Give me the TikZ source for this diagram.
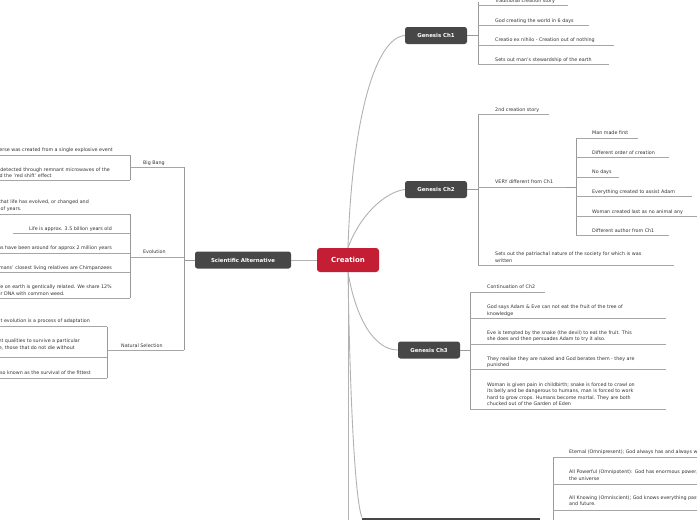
\documentclass[tikz,border=0pt]{standalone}
\usepackage{fontspec}
\setmainfont{DejaVu Sans}
\begin{document}
\begin{tikzpicture}[x=1pt,y=-1pt,
 tx/.style={font=\fontsize{4.8}{5.5}\selectfont,text=black!80,inner sep=0,anchor=base west},
 tr/.style={tx,anchor=base east},
 ul/.style={draw=black!35,line width=0.5pt},
 br/.style={draw=black!40,line width=0.6pt},
 mn/.style={draw=black!30,line width=0.9pt},
 topic/.style={fill=black!72,rounded corners=2.5pt,text=white,font=\bfseries\fontsize{5.4}{6}\selectfont,minimum height=17pt,inner sep=0}]
\useasboundingbox (0,0) rectangle (697,520);
\clip (0,0) rectangle (697,520);
\fill[white] (0,0) rectangle (697,520);
% central
\node[fill={rgb,255:red,196;green,30;blue,52},rounded corners=3pt,text=white,font=\bfseries\fontsize{7}{8}\selectfont,minimum width=62pt,minimum height=24pt,inner sep=0] (c) at (348,260) {Creation};
\node[topic,minimum width=62pt] (g1) at (436,35.5) {Genesis Ch1};
\node[topic,minimum width=62pt] (g2) at (436,189.5) {Genesis Ch2};
\node[topic,minimum width=62pt] (g3) at (429,350) {Genesis Ch3};
\node[topic,minimum width=96pt] (sa) at (243,260) {Scientific Alternative};
\node[fill=black!72,minimum width=178pt,minimum height=10pt,inner sep=0,anchor=north west] (g4) at (362,517.5) {};
% main connectors
\draw[mn] (c.north) .. controls (352,120) and (375,38) .. (g1.west);
\draw[mn] (c.north) .. controls (360,215) and (385,192) .. (g2.west);
\draw[mn] (c.south) .. controls (356,320) and (375,350) .. (g3.west);
\draw[mn] (c.south) -- (348,520);
\draw[mn] (c.south) .. controls (350,400) and (355,500) .. (g4.north west);
\draw[mn] (c.west) -- (sa.east);
% Genesis Ch1
\coordinate (b1) at (478,35.5);
\draw[br] (g1.east) -- (b1);
\draw[br] (478,2) -- (478,64.5);
\node[tx] (a1) at (495,2) {Traditional creation story};
\draw[ul] (478,5) -- (568,5);
\node[tx] (a2) at (495,22) {God creating the world in 6 days};
\draw[ul] (478,25) -- (589,25);
\node[tx] (a3) at (495,41.5) {Creatio ex nihilo - Creation out of nothing};
\draw[ul] (478,45) -- (614,45);
\node[tx] (a4) at (495,61.5) {Sets out man's stewardship of the earth};
\draw[ul] (478,64.5) -- (609,64.5);
% Genesis Ch2
\draw[br] (g2.east) -- (478,189.5);
\draw[br] (478,114.5) -- (478,265);
\node[tx] (b2a) at (495,111) {2nd creation story};
\draw[ul] (478,114.5) -- (549,114.5);
\node[tx] (b2b) at (495,183.5) {VERY different from Ch1};
\draw[ul] (478,187) -- (566,187);
\draw[br] (566,187) -- (576,187);
\draw[br] (576,138) -- (576,235.5);
\node[tx] (s1) at (592,134.5) {Man made first};
\draw[ul] (576,138) -- (638,138);
\node[tx] (s2) at (592,154.5) {Different order of creation};
\draw[ul] (576,157.5) -- (669,157.5);
\node[tx] (s3) at (592,173.5) {No days};
\draw[ul] (576,177) -- (619,177);
\node[tx] (s4) at (592,193.5) {Everything created to assist Adam};
\draw[ul] (576,196.5) -- (692,196.5);
\node[tx] (s5) at (592,213) {Woman created last as no animal any};
\draw[ul] (576,216) -- (697,216);
\node[tx] (s6) at (592,232) {Different author from Ch1};
\draw[ul] (576,235.5) -- (669,235.5);
\node[tx] (b2c) at (495,255.5) {Sets out the patriachal nature of the society for which is was};
\node[tx] (b2d) at (495,262) {written};
\draw[ul] (478,265) -- (674,265);
% Genesis Ch3
\draw[br] (g3.east) -- (470,350);
\draw[br] (470,292) -- (470,409);
\node[tx] (c1) at (487,288.5) {Continuation of Ch2};
\draw[ul] (470,292) -- (545,292);
\node[tx] (c2) at (487,308.5) {God says Adam \& Eve can not eat the fruit of the tree of};
\node[tx] (c2b) at (487,315) {knowledge};
\draw[ul] (470,318) -- (666,318);
\node[tx] (c3) at (487,334) {Eve is tempted by the snake (the devil) to eat the fruit. This};
\node[tx] (c3b) at (487,340.5) {she does and then persuades Adam to try it also.};
\draw[ul] (470,344) -- (666,344);
\node[tx] (c4) at (487,360) {They realise they are naked and God berates them - they are};
\node[tx] (c4b) at (487,366.5) {punished};
\draw[ul] (470,369.5) -- (666,369.5);
\node[tx] (c5) at (487,386) {Woman is given pain in childbirth; snake is forced to crawl on};
\node[tx] (c5b) at (487,392.5) {its belly and be dangerous to humans, man is forced to work};
\node[tx] (c5c) at (487,399) {hard to grow crops. Humans become mortal. They are both};
\node[tx] (c5d) at (487,405.5) {chucked out of the Garden of Eden};
\draw[ul] (470,409) -- (666,409);
% bottom topic
\draw[br] (553,457) -- (553,520);
\node[tx] (d1) at (569,453.5) {Eternal (Omnipresent); God always has and always will exist};
\draw[ul] (553,457) -- (697,457);
\node[tx] (d2) at (569,473.5) {All Powerful (Omnipotent): God has enormous power, he created};
\node[tx] (d2b) at (569,480) {the universe};
\draw[ul] (553,484) -- (697,484);
\node[tx] (d3) at (569,499) {All Knowing (Omniscient); God knows everything past, present};
\node[tx] (d3b) at (569,505.5) {and future.};
\draw[ul] (553,510) -- (697,510);
% Scientific alternative
\draw[br] (sa.west) -- (184,260);
\draw[br] (184,167) -- (184,350);
\node[tx] (bb) at (143,164) {Big Bang};
\draw[ul] (130,167) -- (184,167);
\draw[br] (130,155) -- (130,180);
\node[tr] (bb1) at (113,151) {The universe was created from a single explosive event};
\draw[ul] (0,155) -- (130,155);
\node[tr] (bb2) at (110,171) {This can be detected through remnant microwaves of the};
\node[tx] (bb2b) at (bb2.base west |- 0,177.5) {universe and the 'red shift' effect};
\draw[ul] (0,180) -- (130,180);
\node[tx] (ev) at (143,253.5) {Evolution};
\draw[ul] (130,257) -- (184,257);
\draw[br] (130,214) -- (130,298);
\node[tr] (e1) at (89,203.5) {Evolution theory states that life has evolved, or changed and};
\node[tx] (e1b) at (e1.base west |- 0,210) {developed over millions of years.};
\draw[ul] (0,214) -- (130,214);
\node[tr] (e2) at (112,230) {Life is approx. 3.5 billion years old};
\draw[ul] (13,233.5) -- (130,233.5);
\node[tr] (e3) at (112,249.5) {Humans have been around for approx 2 million years};
\draw[ul] (0,253) -- (130,253);
\node[tr] (e4) at (112,269) {Humans' closest living relatives are Chimpanzees};
\draw[ul] (0,272.5) -- (130,272.5);
\node[tr] (e5) at (112,288.5) {All life on earth is gentically related. We share 12\%};
\node[tx] (e5b) at (e5.base west |- 0,295) {of our DNA with common weed.};
\draw[ul] (0,298) -- (130,298);
\node[tx] (ns) at (121,347) {Natural Selection};
\draw[ul] (107,350) -- (184,350);
\draw[br] (107,326.5) -- (107,378);
\node[tr] (n1) at (90,322.5) {Natural selection states that evolution is a process of adaptation};
\draw[ul] (0,326.5) -- (107,326.5);
\node[tr] (n2) at (80,342.5) {Creatures with the right qualities to survive a particular};
\node[tx] (n2b) at (n2.base west |- 0,349) {environment will thrive, those that do not die without};
\draw[ul] (0,357.5) -- (107,357.5);
\node[tr] (n3) at (91,374.5) {This is also known as the survival of the fittest};
\draw[ul] (0,378) -- (107,378);
\end{tikzpicture}
\end{document}
